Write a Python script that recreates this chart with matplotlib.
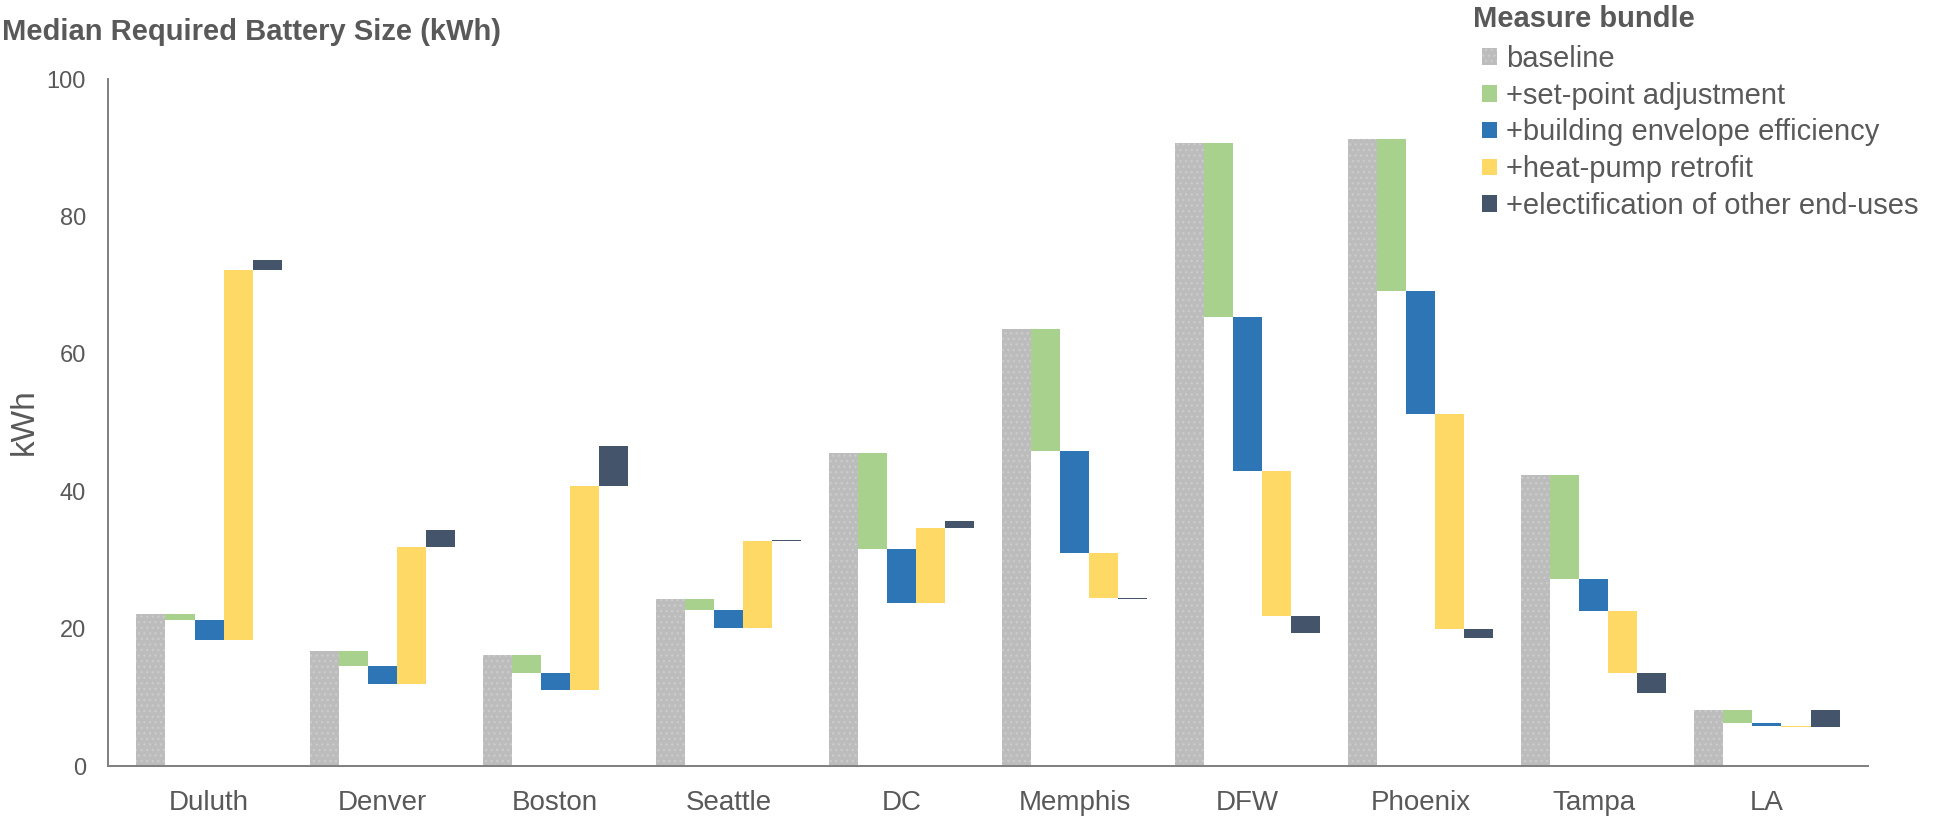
import numpy as np
import matplotlib
matplotlib.use("Agg")
import matplotlib.pyplot as plt
from matplotlib.patches import Patch

plt.rcParams['font.family'] = ['Liberation Sans', 'DejaVu Sans']
plt.rcParams['hatch.linewidth'] = 1.0

# cities and the battery size (kWh) after each measure is stacked on
cities = ["Duluth", "Denver", "Boston", "Seattle", "DC",
          "Memphis", "DFW", "Phoenix", "Tampa", "LA"]
baseline = [22.1, 16.8, 16.2, 24.3, 45.6, 63.6, 90.7, 91.3, 42.4, 8.15]
setpoint = [21.2, 14.5, 13.6, 22.7, 31.6, 45.8, 65.4, 69.2, 27.2, 6.25]
envelope = [18.4, 11.9, 11.0, 20.1, 23.7, 31.0, 42.9, 51.2, 22.5, 5.8]
heatpump = [72.2, 31.9, 40.7, 32.8, 34.7, 24.5, 21.8, 19.9, 13.6, 5.65]
electrify = [73.7, 34.4, 46.6, 32.95, 35.7, 24.3, 19.3, 18.6, 10.6, 8.15]

labels = ["baseline", "+set-point adjustment", "+building envelope efficiency",
          "+heat-pump retrofit", "+electification of other end-uses"]
colors = ["#bcbcbc", "#a9d18e", "#2e75b6", "#ffd966", "#44546a"]
txt = "#595959"

W, H = 1942, 822
fig = plt.figure(figsize=(W / 100, H / 100), dpi=100)
ax = fig.add_axes([108 / W, 1 - 766 / H, 1760 / W, 687 / H])

x = np.arange(len(cities))
w = 0.1676
steps = [baseline, setpoint, envelope, heatpump, electrify]
prev = np.zeros(len(cities))
for k, lvl in enumerate(steps):
    lvl = np.array(lvl)
    bottom = np.minimum(prev, lvl)
    height = np.abs(lvl - prev)
    if k == 0:
        ax.bar(x + (k - 2) * w, height, w, bottom=bottom, color=colors[k],
               edgecolor="#cbcbcb", linewidth=0, hatch="...")
    else:
        ax.bar(x + (k - 2) * w, height, w, bottom=bottom, color=colors[k], linewidth=0)
    prev = lvl

ax.set_xlim(-0.5835, 9.5835)
ax.set_ylim(0, 100)
ax.set_yticks(range(0, 101, 20))
ax.set_xticks(x)
ax.set_xticklabels(cities)
ax.tick_params(axis="y", length=0, pad=15.8, labelsize=17, labelcolor=txt)
ax.tick_params(axis="x", length=0, pad=17, labelsize=20, labelcolor=txt)
for s in ["top", "right"]:
    ax.spines[s].set_visible(False)
for s in ["left", "bottom"]:
    ax.spines[s].set_color("#7f7f7f")
    ax.spines[s].set_linewidth(1.4)

fig.text(24 / W, 1 - 422 / H, "kWh", fontsize=24, color=txt, rotation=90,
         ha="center", va="center")

fig.text(2 / W, 1 - 32 / H, "Median Required Battery Size (kWh)", fontsize=21,
         fontweight="bold", color=txt, ha="left", va="center")
fig.text(1473 / W, 1 - 19 / H, "Measure bundle", fontsize=21,
         fontweight="bold", color=txt, ha="left", va="center")

handles = [Patch(facecolor=colors[0], edgecolor="#cbcbcb", linewidth=0, hatch="...")]
handles += [Patch(facecolor=c, linewidth=0) for c in colors[1:]]
leg = fig.legend(handles, labels, loc="upper left", bbox_to_anchor=(1482 / W, 1 - 45 / H),
                 frameon=False, fontsize=21, handlelength=0.5, handleheight=0.5,
                 handletextpad=0.31, labelspacing=0.3, borderpad=0, borderaxespad=0)
for t in leg.get_texts():
    t.set_color(txt)

fig.savefig("out.png", dpi=100)
